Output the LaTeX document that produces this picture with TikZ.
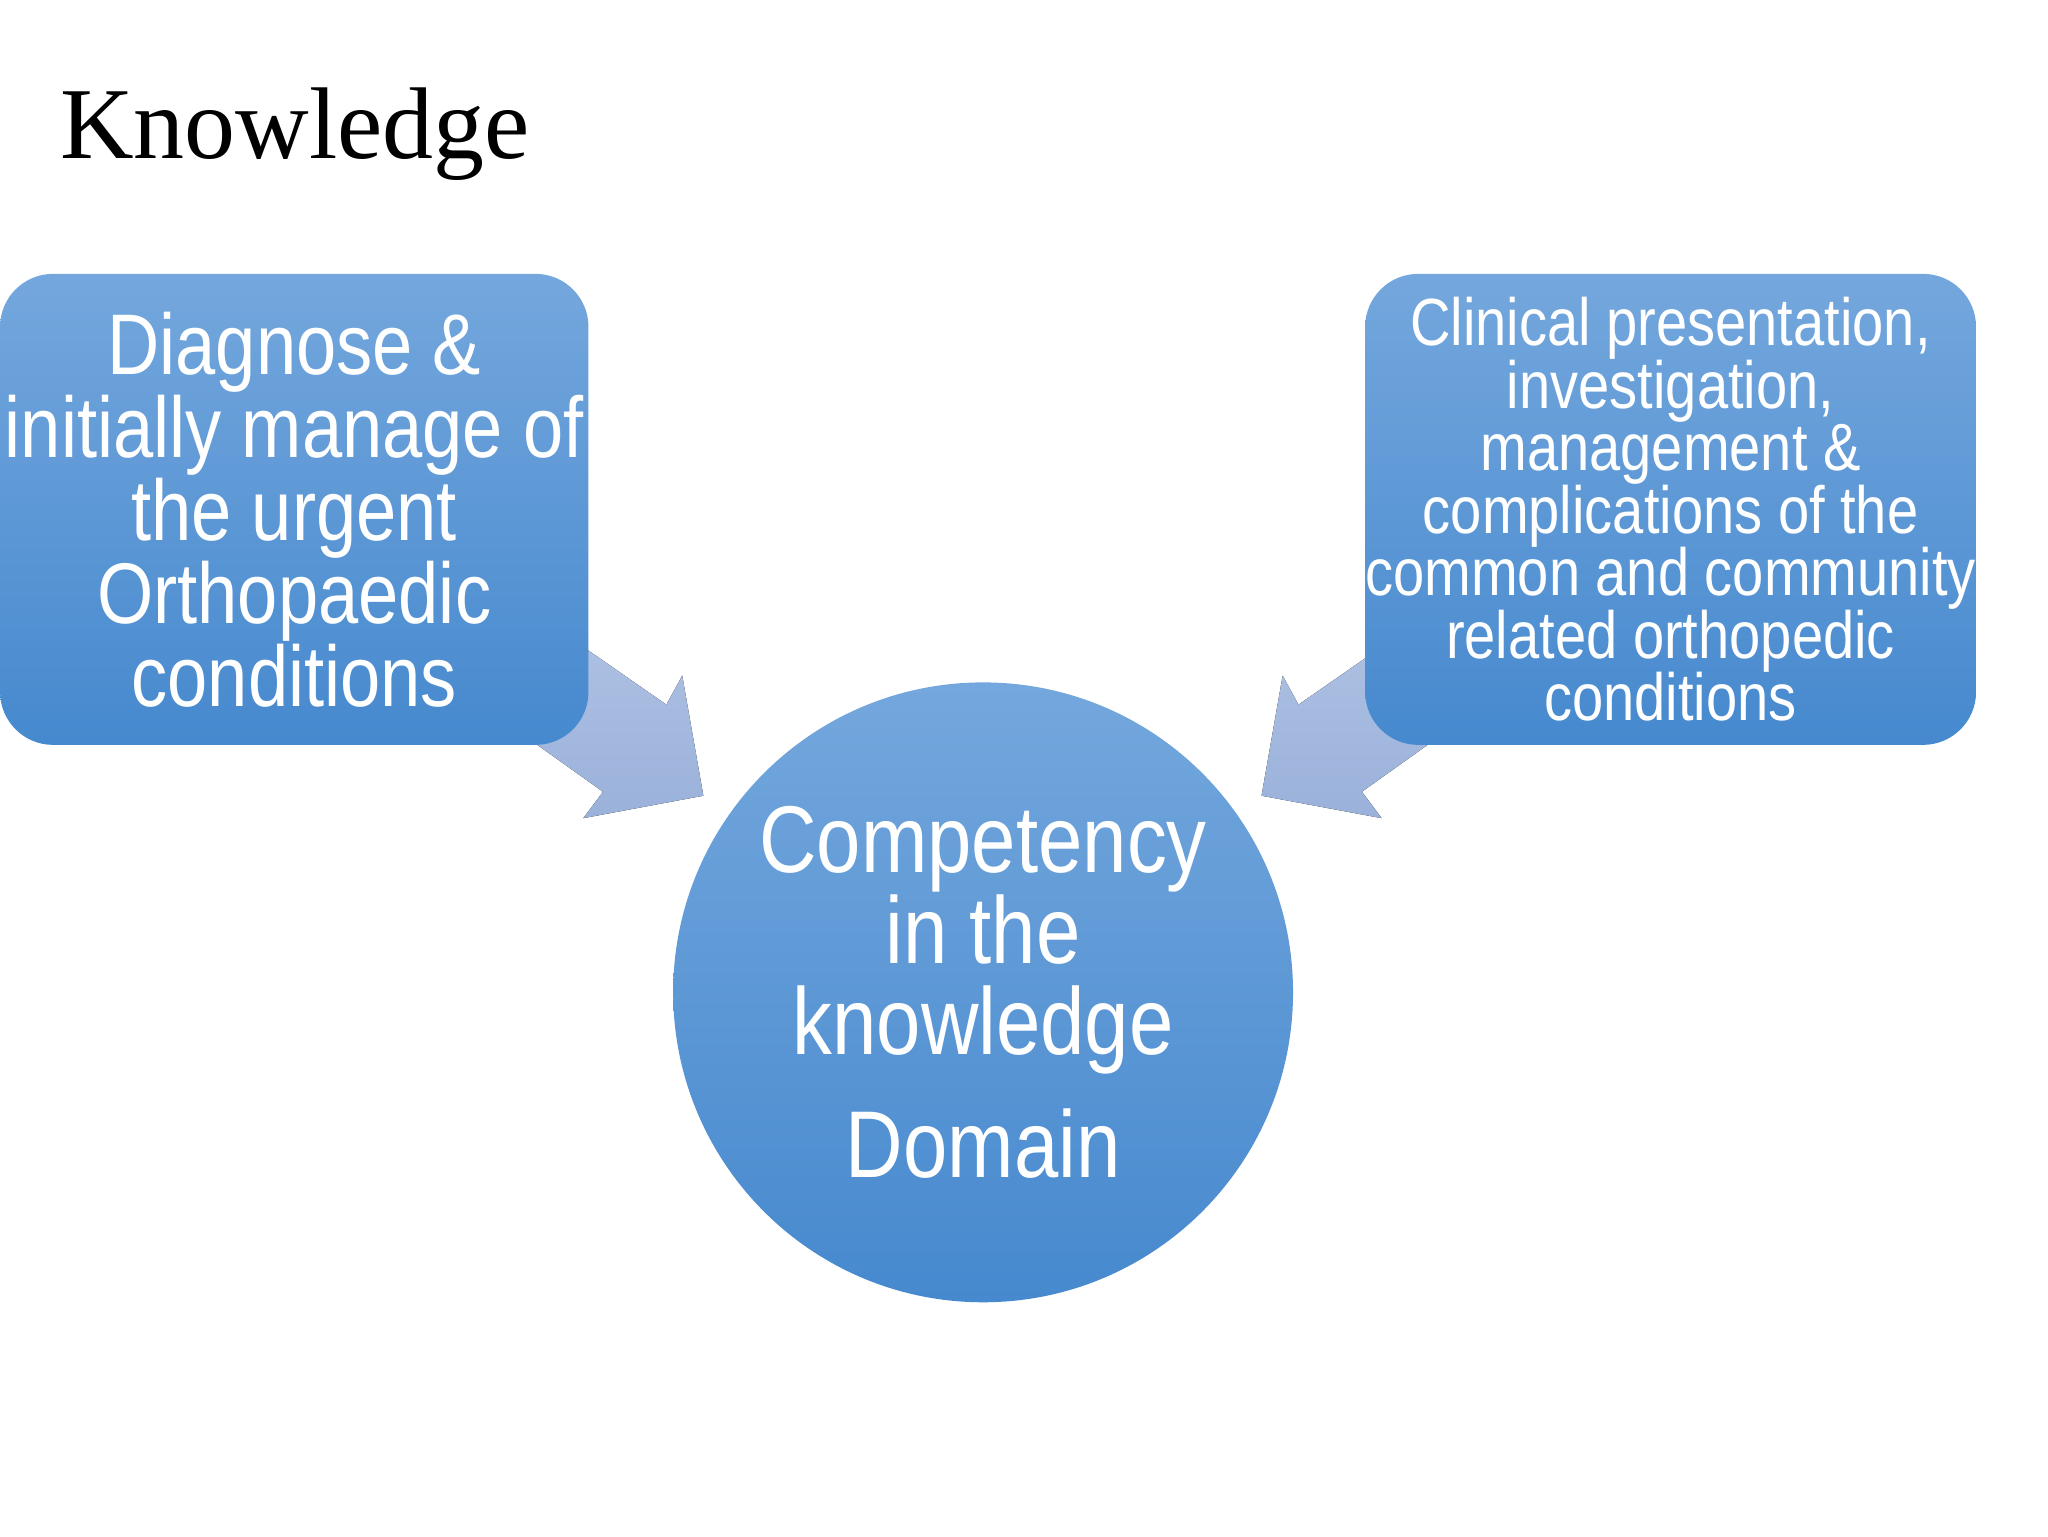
\documentclass[tikz,border=0pt]{standalone}
\usepackage{fontspec}
\setmainfont{Liberation Serif}
\newfontfamily\narrow[FakeStretch=0.84]{Liberation Sans}
\usetikzlibrary{positioning}

\tikzset{
  topic box/.style={rectangle,rounded corners=0.53cm,minimum width=5.885cm,
    minimum height=4.711cm,top color=blue!30!cyan!20!white!0!topcol,bottom color=botcol,
    text=white,align=center,inner sep=0pt,font=\narrow},
  domain node/.style={circle,minimum size=6.2cm,inner sep=0pt,top color=topcol,
    bottom color=botcol,text=white,align=center,font=\narrow\fontsize{27}{26}\selectfont},
  block arrow/.style={top color=arrtop,bottom color=arrbot,draw=none}
}
\definecolor{topcol}{HTML}{74A7DD}
\definecolor{botcol}{HTML}{4689CE}
\definecolor{arrtop}{HTML}{B4C6E6}
\definecolor{arrbot}{HTML}{9AB1DA}

\begin{document}
\begin{tikzpicture}[x=0.013196cm,y=-0.013196cm]
  \useasboundingbox (0,0) rectangle (1552,1164);
  \fill[white] (0,0) rectangle (1552,1164);

  % title
  \node[anchor=base west,inner sep=0pt,font=\fontsize{29}{34}\selectfont] (title) at (45,120) {Knowledge};

  % arrows behind the boxes
  \fill[block arrow] (364,436) -- (505,534) -- (517,512) -- (533,603) -- (442,620) -- (457,600) -- (328,508) -- cycle;
  \fill[block arrow] (1125,436) -- (984,534) -- (972,512) -- (956,603) -- (1047,620) -- (1032,600) -- (1161,508) -- cycle;

  % boxes
  \node[topic box,font=\narrow\fontsize{24.5}{23.6}\selectfont] (diag) at (223,386)
    {Diagnose \&\\initially manage of\\the urgent\\Orthopaedic\\conditions};
  \node[topic box,font=\narrow\fontsize{19}{17.8}\selectfont] (clin) at (1266,386)
    {Clinical presentation,\\investigation,\\management \&\\complications of the\\common and community\\related orthopedic\\conditions};

  % centre
  \node[domain node] (comp) at (745,752) {Competency\\in the\\knowledge\\[9pt]Domain};
\end{tikzpicture}
\end{document}
